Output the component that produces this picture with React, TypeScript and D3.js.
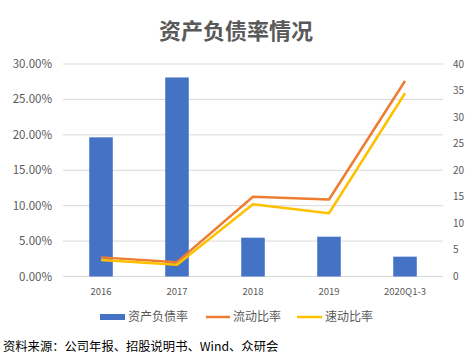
import * as d3 from 'd3'

const categories = ['2016', '2017', '2018', '2019', '2020Q1-3']
const debtRatio = [19.65, 28.1, 5.48, 5.62, 2.8]
const currentRatio = [3.6, 2.7, 15.0, 14.5, 36.8]
const quickRatio = [3.1, 2.2, 13.6, 11.9, 34.5]
const leftTicks = [0, 5, 10, 15, 20, 25, 30]
const rightTicks = [0, 5, 10, 15, 20, 25, 30, 35, 40]

const W = 474
const H = 361
const FONT = '"Noto Sans CJK SC", "Noto Sans", sans-serif'

export default function App() {
  const margin = { top: 64, left: 63, right: 31, bottom: 84.5 }
  const x = d3
    .scaleBand()
    .domain(categories)
    .range([margin.left, W - margin.right])
  const yL = d3.scaleLinear().domain([0, 30]).range([H - margin.bottom, margin.top])
  const yR = d3.scaleLinear().domain([0, 40]).range([H - margin.bottom, margin.top])
  const barW = x.bandwidth() * 0.31
  const cx = (c: string) => (x(c) ?? 0) + x.bandwidth() / 2

  const line = d3
    .line<number>()
    .x((_, i) => cx(categories[i]))
    .y(d => yR(d))

  return (
    <div style={{ position: 'fixed', left: 0, top: 0 }}>
      <svg width={W} height={H} style={{ display: 'block', background: '#fff' }} fontFamily={FONT}>
        <text x={236} y={39} textAnchor="middle" fontSize={22} fontWeight="bold" fill="#595959">
          资产负债率情况
        </text>

        {leftTicks.map(t => (
          <g key={'l' + t}>
            <line x1={margin.left} x2={W - margin.right} y1={yL(t)} y2={yL(t)} stroke="#d9d9d9" strokeWidth={1} />
            <text x={52} y={yL(t)} dy="0.35em" textAnchor="end" fontSize={11.5} fill="#595959">
              {d3.format('.2f')(t) + '%'}
            </text>
          </g>
        ))}

        {rightTicks.map(t => (
          <text key={'r' + t} x={453} y={yR(t)} dy="0.35em" textAnchor="start" fontSize={10} fill="#595959">
            {t}
          </text>
        ))}

        {categories.map((c, i) => (
          <rect
            key={c}
            x={cx(c) - barW / 2}
            y={yL(debtRatio[i])}
            width={barW}
            height={yL(0) - yL(debtRatio[i])}
            fill="#4472C4"
          />
        ))}

        <path d={line(currentRatio) ?? ''} fill="none" stroke="#ED7D31" strokeWidth={2.5} strokeLinejoin="round" />
        <path d={line(quickRatio) ?? ''} fill="none" stroke="#FFC000" strokeWidth={2.5} strokeLinejoin="round" />

        {categories.map(c => (
          <text key={'x' + c} x={cx(c)} y={292} dy="0.35em" textAnchor="middle" fontSize={9.5} fill="#595959">
            {c}
          </text>
        ))}

        <g fontSize={12} fill="#595959">
          <rect x={100} y={314} width={25} height={6} fill="#4472C4" />
          <text x={128} y={317} dy="0.35em">资产负债率</text>
          <line x1={206} x2={230} y1={317} y2={317} stroke="#ED7D31" strokeWidth={2.5} />
          <text x={233} y={317} dy="0.35em">流动比率</text>
          <line x1={297} x2={322} y1={317} y2={317} stroke="#FFC000" strokeWidth={2.5} />
          <text x={325} y={317} dy="0.35em">速动比率</text>
        </g>

        <text x={3} y={347} dy="0.35em" fontSize={12.3} fill="#000">
          资料来源：公司年报、招股说明书、Wind、众研会
        </text>
      </svg>
    </div>
  )
}
